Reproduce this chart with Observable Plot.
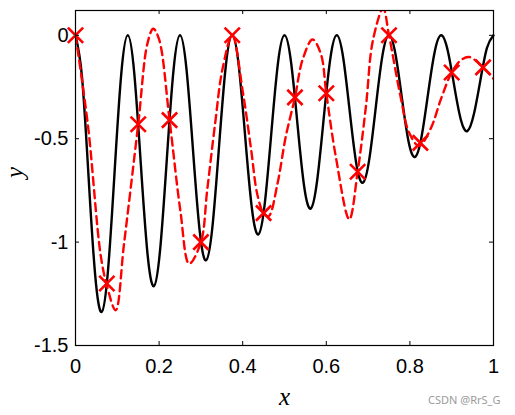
<!DOCTYPE html>
<html>
<head>
<meta charset="utf-8">
<script src="https://cdn.jsdelivr.net/npm/d3@7"></script>
<script src="https://cdn.jsdelivr.net/npm/@observablehq/plot@0.6"></script>
<style>
  html, body { margin: 0; padding: 0; background: #fff; }
</style>
</head>
<body>
<div id="chart"></div>
<script>
const curveX = d3.range(0, 65).map(k => k / 64);
const curveY = [
  0, -0.203, -0.684, -1.155, -1.338, -1.128, -0.653, -0.189,
  0, -0.184, -0.622, -1.048, -1.213, -1.022, -0.591, -0.171,
  0, -0.166, -0.559, -0.942, -1.088, -0.915, -0.528, -0.152,
  0, -0.148, -0.497, -0.835, -0.963, -0.808, -0.466, -0.134,
  0, -0.129, -0.434, -0.728, -0.838, -0.702, -0.403, -0.116,
  0, -0.111, -0.372, -0.622, -0.713, -0.595, -0.341, -0.097,
  0, -0.093, -0.309, -0.515, -0.588, -0.488, -0.278, -0.079,
  0, -0.075, -0.247, -0.408, -0.463, -0.381, -0.216, -0.061,
  0
];
// Red dashed curve
const redX = [0, 0.03, 0.06, 0.075, 0.096, 0.116, 0.15, 0.172, 0.186, 0.2, 0.225, 0.251, 0.272, 0.3, 0.315, 0.335, 0.351, 0.375,
  0.40, 0.42, 0.435, 0.45, 0.462, 0.483, 0.503, 0.525, 0.543, 0.567, 0.587, 0.6, 0.623, 0.655, 0.675, 0.695, 0.711, 0.736, 0.75,
  0.778, 0.798, 0.822, 0.85, 0.874, 0.9, 0.922, 0.942, 0.975, 1.0];
const redY = [0, -0.44, -1.06, -1.21, -1.33, -1.01, -0.43, -0.04, 0.032, -0.02, -0.41, -0.85, -1.105, -1.0, -0.75, -0.41, -0.17, 0,
  -0.27, -0.55, -0.77, -0.86, -0.875, -0.72, -0.49, -0.30, -0.12, -0.02, -0.09, -0.28, -0.59, -0.89, -0.66, -0.34, -0.03, 0.13, 0,
  -0.30, -0.47, -0.535, -0.45, -0.31, -0.18, -0.12, -0.105, -0.155, -0.21];
// Red sample points (x markers)
const sampleX = [0, 0.075, 0.15, 0.225, 0.3, 0.375, 0.45, 0.525, 0.6, 0.675, 0.75, 0.825, 0.9, 0.975];
const sampleY = [0, -1.20, -0.43, -0.41, -1.00, 0, -0.86, -0.30, -0.28, -0.66, 0, -0.52, -0.18, -0.155];

const xTicks = [0, 0.2, 0.4, 0.6, 0.8, 1];
const yTicks = [0, -0.5, -1, -1.5];
const xTickLabels = ["0", "0.2", "0.4", "0.6", "0.8", "1"];
const yTickLabels = ["0", "-0.5", "-1", "-1.5"];

const curve = curveX.map((x, i) => ({x, y: curveY[i]}));
const red = redX.map((x, i) => ({x, y: redY[i]}));
const samples = sampleX.map((x, i) => ({x, y: sampleY[i]}));

const W = 515, H = 415;
const mL = 75, mR = 22, mT = 10, mB = 70;
const innerW = W - mL - mR, innerH = H - mT - mB;
const tick = 4;

const chart = Plot.plot({
  width: W,
  height: H,
  marginLeft: mL,
  marginRight: mR,
  marginTop: mT,
  marginBottom: mB,
  style: {fontFamily: "Liberation Sans, Arial, sans-serif", fontSize: "20px", background: "#fff", color: "#000"},
  x: {domain: [0, 1]},
  y: {domain: [-1.5, 0.12]},
  marks: [
    Plot.line(curve, {x: "x", y: "y", curve: "natural", stroke: "#000", strokeWidth: 2.4}),
    Plot.line(red, {x: "x", y: "y", curve: "catmull-rom", stroke: "#ff0000", strokeWidth: 2.4, strokeDasharray: "8,5", clip: true}),
    Plot.dot(samples, {x: "x", y: "y", symbol: "times", r: 7, stroke: "#ff0000", strokeWidth: 2.6}),
    // inward ticks on all four sides
    Plot.tickX(xTicks, {x: d => d, insetTop: innerH - tick, stroke: "#000", strokeWidth: 1}),
    Plot.tickX(xTicks, {x: d => d, insetBottom: innerH - tick, stroke: "#000", strokeWidth: 1}),
    Plot.tickY(yTicks, {y: d => d, insetRight: innerW - tick, stroke: "#000", strokeWidth: 1}),
    Plot.tickY(yTicks, {y: d => d, insetLeft: innerW - tick, stroke: "#000", strokeWidth: 1}),
    Plot.axisX(xTicks, {tickSize: 0, tickPadding: 13, tickFormat: (d, i) => xTickLabels[i], fontSize: 20, label: null}),
    Plot.axisY(yTicks, {tickSize: 0, tickPadding: 7, tickFormat: (d, i) => yTickLabels[i], fontSize: 20, label: null}),
    Plot.frame({stroke: "#000", strokeWidth: 1.2}),
    Plot.text(["x"], {frameAnchor: "bottom", dy: 51, fontFamily: "Liberation Serif, serif", fontStyle: "italic", fontSize: 25, lineAnchor: "middle", fill: "#000"}),
    Plot.text(["y"], {frameAnchor: "left", dx: -61, rotate: -90, fontFamily: "Liberation Serif, serif", fontStyle: "italic", fontSize: 25, lineAnchor: "middle", fill: "#000"}),
    Plot.text(["CSDN @RrS_G"], {frameAnchor: "bottom-right", dx: 7, dy: 55, textAnchor: "end", lineAnchor: "middle", fontSize: 11, fill: "#9a9a9a", fontFamily: "Noto Sans, sans-serif"})
  ]
});
document.getElementById("chart").appendChild(chart);
</script>
</body>
</html>
